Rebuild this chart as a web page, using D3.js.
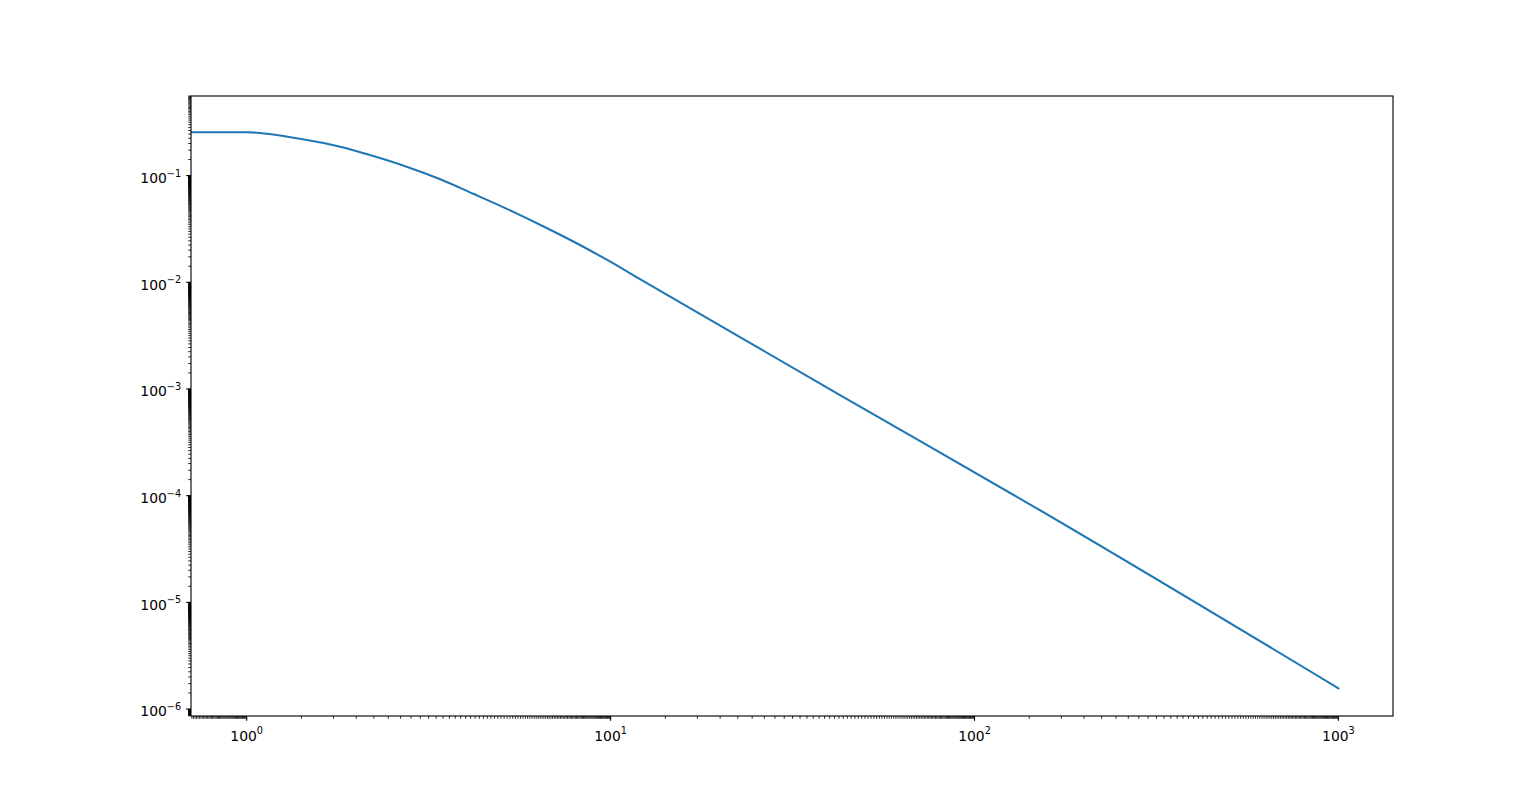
<!DOCTYPE html>
<html>
<head>
<meta charset="utf-8">
<script src="https://cdn.jsdelivr.net/npm/d3@7"></script>
<style>
  body { margin: 0; background: #fff; }
  svg { display: block; font-family: "DejaVu Sans", sans-serif; }
</style>
</head>
<body>
<svg id="chart" width="1536" height="805"></svg>
<script>
// values (both axes are log base 100)
const xValues = [0, 1, 2, 3.26, 4.96, 7.57, 11.5, 17.6, 26.9, 40.9, 62.4, 95.3, 145, 514, 1823, 21980, 1000000];
const yValues = [0.0649, 0.0649, 0.0485, 0.0348, 0.0233, 0.0147, 0.00863, 0.00456, 0.00238, 0.00120,
                 5.82e-4, 2.65e-4, 1.15e-4, 9.4e-6, 7.7e-7, 5.8e-9, 2.45e-12];
const logBase = 100;
const xTickExps = [0, 1, 2, 3];
const yTickExps = [-1, -2, -3, -4, -5, -6];
const xLimitExps = [-0.153, 3.150];
const yLimitExps = [-6.065, -0.254];

const margin = {left: 191, right: 143, top: 96, bottom: 89};
const width = 1536, height = 805;

let svg = d3.select("#chart");

let xScale = d3.scaleLog().base(logBase)
    .domain(xLimitExps.map(e => Math.pow(logBase, e)))
    .range([margin.left, width - margin.right]);

let yScale = d3.scaleLog().base(logBase)
    .domain(yLimitExps.map(e => Math.pow(logBase, e)))
    .range([height - margin.bottom, margin.top]);

// minor ticks at m * 100^k, m = 2..99 (matplotlib style)
function minorTicks(scale) {
    let [lo, hi] = scale.domain();
    let out = [];
    let k0 = Math.floor(Math.log(lo) / Math.log(logBase));
    let k1 = Math.ceil(Math.log(hi) / Math.log(logBase));
    for (let k = k0; k <= k1; k++) {
        for (let m = 2; m < logBase; m++) {
            let v = m * Math.pow(logBase, k);
            if (v >= lo && v <= hi) out.push(v);
        }
    }
    return out;
}

let points = xValues.map((x, i) => ({x: x, y: yValues[i]}));

// clip path for the plot area
svg.append("defs").append("clipPath").attr("id", "plotClip")
    .append("rect")
    .attr("x", margin.left)
    .attr("y", margin.top)
    .attr("width", width - margin.left - margin.right)
    .attr("height", height - margin.top - margin.bottom);

// x = 0 cannot sit on a log axis: send it far off to the left, like matplotlib does
let line = d3.line()
    .x(d => d.x > 0 ? xScale(d.x) : xScale.range()[0] - 1e4)
    .y(d => yScale(d.y))
    .curve(d3.curveMonotoneX);

svg.append("path")
    .datum(points)
    .attr("clip-path", "url(#plotClip)")
    .attr("fill", "none")
    .attr("stroke", "#1f77b4")
    .attr("stroke-width", 2.08)
    .attr("stroke-linecap", "square")
    .attr("d", line);

let xAxisY = height - margin.bottom;

// x minor ticks
svg.append("g")
    .selectAll("line")
    .data(minorTicks(xScale))
    .join("line")
    .attr("x1", d => xScale(d)).attr("x2", d => xScale(d))
    .attr("y1", xAxisY).attr("y2", xAxisY + 2.78)
    .attr("stroke", "#000").attr("stroke-width", 0.83);

// y minor ticks
svg.append("g")
    .selectAll("line")
    .data(minorTicks(yScale))
    .join("line")
    .attr("x1", margin.left).attr("x2", margin.left - 2.78)
    .attr("y1", d => yScale(d)).attr("y2", d => yScale(d))
    .attr("stroke", "#000").attr("stroke-width", 0.83);

// x major ticks + labels
let xMajor = svg.append("g")
    .selectAll("g")
    .data(xTickExps)
    .join("g")
    .attr("transform", d => `translate(${xScale(Math.pow(logBase, d))},${xAxisY})`);

xMajor.append("line")
    .attr("y2", 4.86)
    .attr("stroke", "#000").attr("stroke-width", 1.11);

let xText = xMajor.append("text")
    .attr("y", 24.5)
    .attr("text-anchor", "middle")
    .attr("font-size", 13.9)
    .attr("fill", "#000");
xText.append("tspan").text(logBase);
xText.append("tspan")
    .attr("font-size", 9.7)
    .attr("dy", -6.5)
    .text(d => String(d).replace("-", "\u2212"));

// y major ticks + labels
let yMajor = svg.append("g")
    .selectAll("g")
    .data(yTickExps)
    .join("g")
    .attr("transform", d => `translate(${margin.left},${yScale(Math.pow(logBase, d))})`);

yMajor.append("line")
    .attr("x2", -4.86)
    .attr("stroke", "#000").attr("stroke-width", 1.11);

let yText = yMajor.append("text")
    .attr("x", -9.9)
    .attr("y", 7.4)
    .attr("text-anchor", "end")
    .attr("font-size", 13.9)
    .attr("fill", "#000");
yText.append("tspan").text(logBase);
yText.append("tspan")
    .attr("font-size", 9.7)
    .attr("dy", -6.5)
    .text(d => String(d).replace("-", "\u2212"));

// axes frame
svg.append("rect")
    .attr("x", margin.left)
    .attr("y", margin.top)
    .attr("width", width - margin.left - margin.right)
    .attr("height", height - margin.top - margin.bottom)
    .attr("fill", "none")
    .attr("stroke", "#000")
    .attr("stroke-width", 1.11);
</script>
</body>
</html>
